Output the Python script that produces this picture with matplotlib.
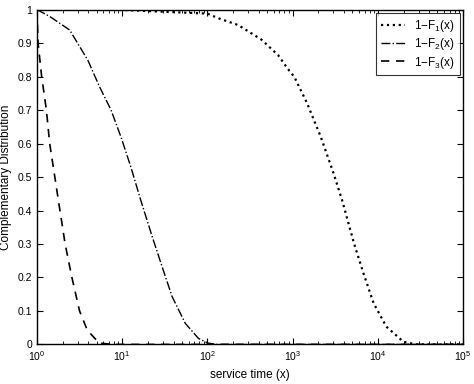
import matplotlib
matplotlib.use("Agg")
import matplotlib.pyplot as plt
from matplotlib.ticker import LogLocator, NullFormatter

plt.rcParams['font.family'] = ['Liberation Sans', 'DejaVu Sans']
plt.rcParams['mathtext.fontset'] = 'custom'
plt.rcParams['mathtext.rm'] = 'Liberation Sans'
plt.rcParams['mathtext.it'] = 'Liberation Sans'

# values
x1 = [1, 10, 100, 135, 229, 427, 676, 871, 1047, 1479, 2138, 3020, 3802,
      5248, 6761, 8913, 12590, 19950, 28180, 100000]
y1 = [1, 0.999, 0.988, 0.974, 0.954, 0.911, 0.864, 0.824, 0.799, 0.720,
      0.620, 0.511, 0.431, 0.302, 0.213, 0.123, 0.053, 0.008, 0, 0]

x2 = [1, 1.42, 2.42, 3.95, 5.41, 7.40, 9.66, 12.6, 16.5, 22.5, 29.4, 38.5,
      55.0, 78.5, 102, 130, 100000]
y2 = [1, 0.979, 0.939, 0.849, 0.770, 0.70, 0.62, 0.531, 0.431, 0.322, 0.232,
      0.143, 0.063, 0.018, 0.004, 0, 0]

x3 = [1, 1.03, 1.135, 1.29, 1.41, 1.62, 1.86, 2.14, 2.57, 3.16, 3.89, 5.37,
      7.94, 100000]
y3 = [1, 0.90, 0.80, 0.70, 0.60, 0.50, 0.40, 0.30, 0.20, 0.10, 0.043, 0.004,
      0, 0]

yticks = [0, 0.1, 0.2, 0.3, 0.4, 0.5, 0.6, 0.7, 0.8, 0.9, 1]
ytick_labels = ['0', '0.1', '0.2', '0.3', '0.4', '0.5', '0.6', '0.7', '0.8', '0.9', '1']
labels = ['1$-$F$_1$(x)', '1$-$F$_2$(x)', '1$-$F$_3$(x)']

fig = plt.figure(figsize=(4.74, 3.84), dpi=100)
ax = fig.add_axes([0.078, 0.103, 0.899, 0.872])

ax.plot(x1, y1, color='black', linestyle=':', linewidth=1.6, label=labels[0])
ax.plot(x2, y2, color='black', linestyle='-.', linewidth=1.0, label=labels[1])
ax.plot(x3, y3, color='black', linestyle='--', linewidth=1.2, dashes=(5, 4), label=labels[2])

ax.set_xscale('log')
ax.set_xlim(1, 1e5)
ax.set_ylim(0, 1)
ax.set_yticks(yticks, ytick_labels)
ax.xaxis.set_minor_locator(LogLocator(base=10, subs=range(2, 10), numticks=20))
ax.xaxis.set_minor_formatter(NullFormatter())

ax.tick_params(which='both', direction='in', top=True, right=True, labelsize=7.5, colors='black')
ax.tick_params(which='major', length=4, width=0.8)
ax.tick_params(which='minor', length=2, width=0.6)
for s in ax.spines.values():
    s.set_linewidth(1.0)

ax.set_xlabel('service time (x)', fontsize=8.5)
ax.set_ylabel('Complementary Distribution', fontsize=8.5)

leg = ax.legend(loc='upper right', fontsize=8.5, frameon=True, fancybox=False,
                edgecolor='black', handlelength=2.0, borderaxespad=0.3,
                labelspacing=0.2)
leg.get_frame().set_linewidth(0.8)

fig.savefig('out.png', dpi=100)
